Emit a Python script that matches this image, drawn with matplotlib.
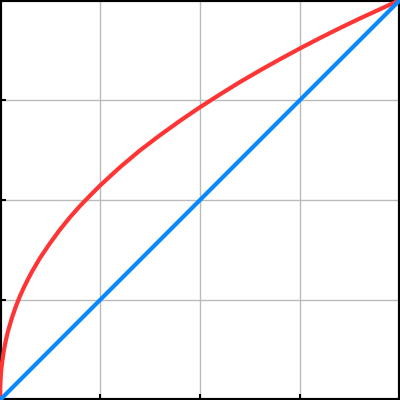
import matplotlib
matplotlib.use("Agg")
import matplotlib.pyplot as plt

# values
x_curve = [0, 0.0005, 0.001, 0.0025, 0.005, 0.01, 0.015, 0.02, 0.03, 0.04, 0.05, 0.06,
           0.07, 0.08, 0.09, 0.1, 0.125, 0.15, 0.175, 0.2, 0.225, 0.25, 0.275, 0.3,
           0.325, 0.35, 0.375, 0.4, 0.425, 0.45, 0.475, 0.5, 0.55, 0.6, 0.65, 0.7,
           0.75, 0.8, 0.85, 0.9, 0.95, 1.0]
y_curve = [0, 0.033, 0.045, 0.068, 0.092, 0.126, 0.151, 0.172, 0.206, 0.235, 0.260, 0.282,
           0.302, 0.321, 0.338, 0.355, 0.392, 0.426, 0.457, 0.485, 0.511, 0.536, 0.559, 0.582,
           0.603, 0.624, 0.643, 0.662, 0.680, 0.698, 0.715, 0.732, 0.764, 0.795, 0.824, 0.852,
           0.879, 0.905, 0.930, 0.954, 0.977, 1.0]
x_line = [0, 1]
y_line = [0, 1]
ticks = [0.25, 0.5, 0.75]

fig = plt.figure(figsize=(4, 4), dpi=100)
ax = fig.add_axes([0, 0, 1, 1])

ax.plot(x_curve, y_curve, color="#ff3535", linewidth=3.0, solid_capstyle="butt",
        solid_joinstyle="round", zorder=3)
ax.plot(x_line, y_line, color="#0a88ff", linewidth=3.0, solid_capstyle="butt", zorder=4)

ax.set_xlim(0, 1)
ax.set_ylim(0, 1)
ax.set_xticks(ticks)
ax.set_yticks(ticks)
ax.set_xticklabels([])
ax.set_yticklabels([])
ax.tick_params(direction="in", length=4, width=1.5, color="black")
ax.grid(True, color="#bbbbbb", linewidth=1.0)
ax.set_axisbelow(True)

for s in ax.spines.values():
    s.set_linewidth(3)
    s.set_color("black")

fig.savefig("out.png", dpi=100)
